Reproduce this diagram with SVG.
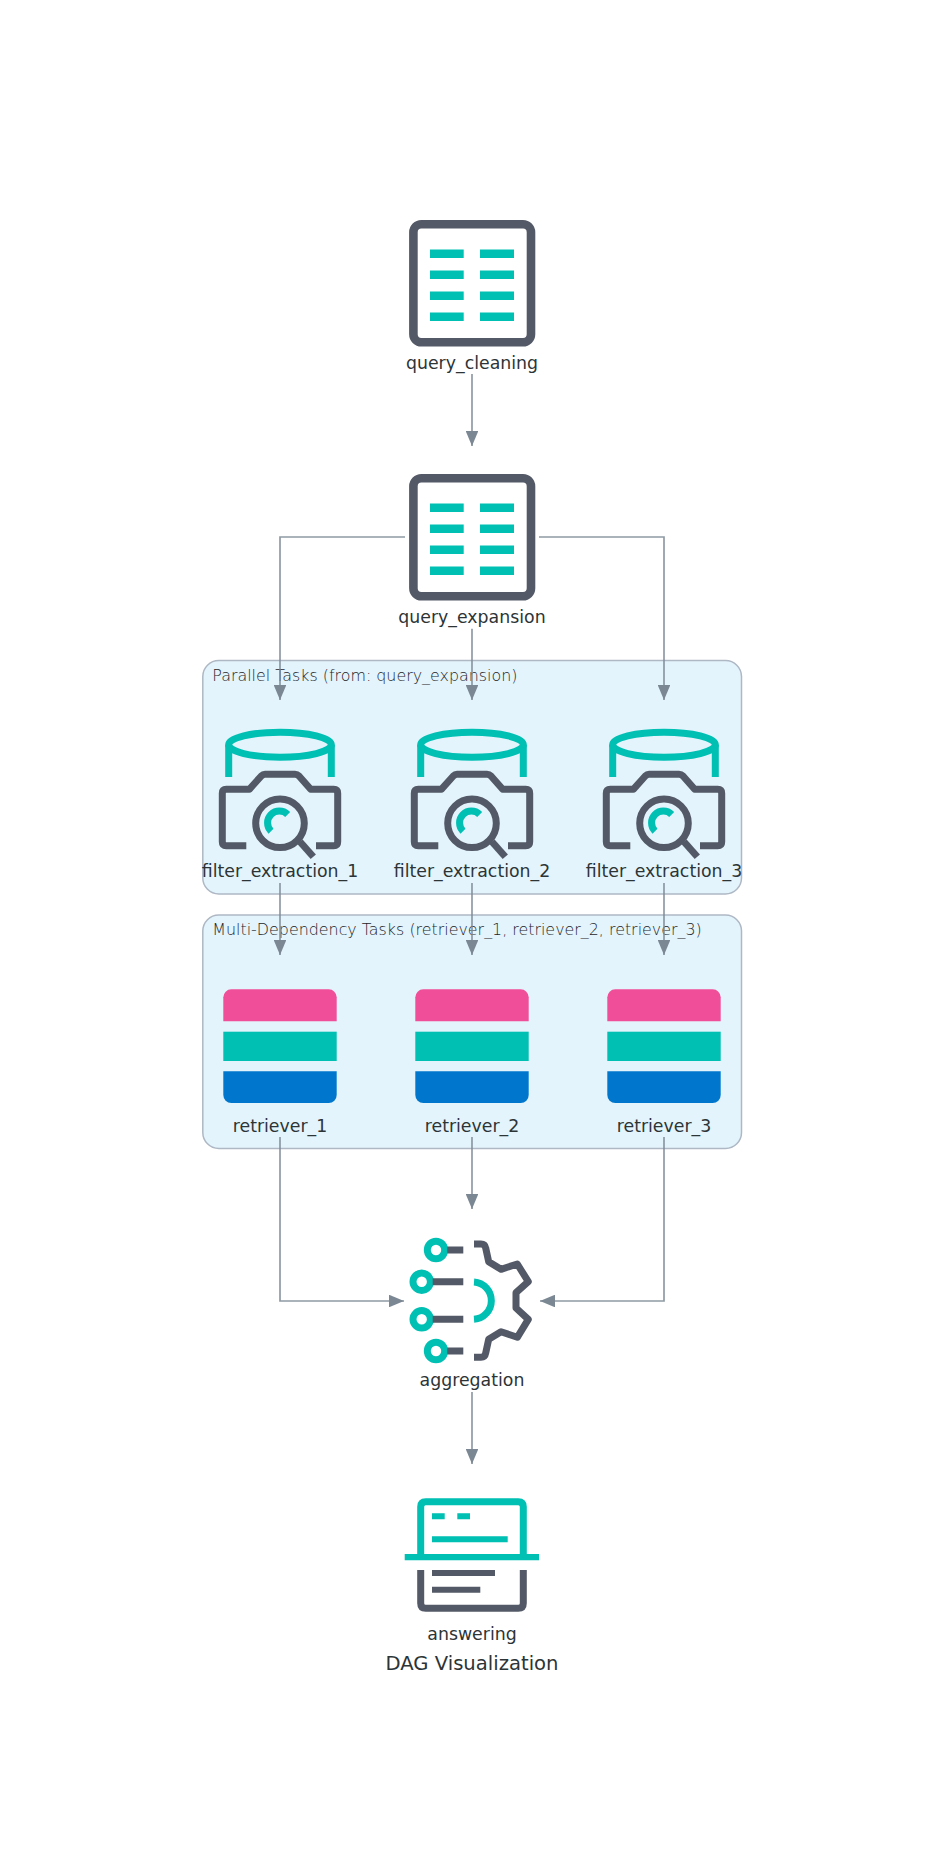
<svg xmlns="http://www.w3.org/2000/svg" width="944" height="1873" viewBox="0 0 944 1873">
<style>
text{font-family:"DejaVu Sans",sans-serif;fill:#2d3436}
.lbl{font-size:17.33px;text-anchor:middle}
.ttl{font-size:19.6px;text-anchor:middle}
.cl{font-size:15.88px;font-family:"DejaVu Sans",sans-serif;fill:#1f2528;font-weight:200}
.box{fill:#e3f4fd;stroke:#aeb8c4;stroke-width:1.5}
.edge{fill:none;stroke:#7b8894;stroke-width:1.7;stroke-opacity:.85}
.hd{fill:#7b8894}
.dk{fill:none;stroke:#535966;stroke-width:7}
.tl{fill:none;stroke:#00bfb3;stroke-width:7}
.tf{fill:#00bfb3}
.df{fill:#535966}
</style>
<defs>
<marker id="a" viewBox="0 0 15 12.6" refX="15" refY="6.3" markerWidth="15" markerHeight="12.6" markerUnits="userSpaceOnUse" orient="auto"><path class="hd" d="M0,0L15,6.3L0,12.6Z"/></marker>
<g id="table">
<rect x="413.4" y="4.2" width="117.6" height="118.1" rx="8" fill="#fff" stroke="#535966" stroke-width="8.6"/>
<path class="tf" d="M430,29.5h33.7v8.5h-33.7zM480,29.5h34v8.5h-34zM430,50.5h33.7v8.5h-33.7zM480,50.5h34v8.5h-34zM430,71.5h33.7v8.5h-33.7zM480,71.5h34v8.5h-34zM430,92.5h33.7v8.5h-33.7zM480,92.5h34v8.5h-34z"/>
</g>
<g id="camera">
<ellipse class="tl" cx="280" cy="744.7" rx="51.3" ry="12.5"/>
<path class="tl" d="M228.7,744.7V777M331.3,744.7V777"/>
<path class="dk" stroke-linejoin="round" d="M246.3,845.7H226.3Q222.3,845.7 222.3,841.7V793.3Q222.3,789.3 226.3,789.3H249.3L261.3,776Q263,774.3 265,774.3H295Q297.3,774.3 299,776L310.7,789.3H333.7Q337.7,789.3 337.7,793.3V841.7Q337.7,845.7 333.7,845.7H316"/>
<circle class="dk" cx="280" cy="823.3" r="24.3"/>
<path class="dk" d="M300,841.7L313.3,856.7"/>
<path class="tl" d="M271,831.2A11.7,11.7 0 0 1 287.7,814.5"/>
</g>
<g id="stack">
<path fill="#f04e98" d="M223.3,1021.3V997.3a8,8 0 0 1 8,-8H328.7a8,8 0 0 1 8,8V1021.3Z"/>
<rect class="tf" x="223.3" y="1031.7" width="113.4" height="29.3"/>
<path fill="#0077cc" d="M223.3,1071.3V1095a8,8 0 0 0 8,8H328.7a8,8 0 0 0 8,-8V1071.3Z"/>
</g>
</defs>
<g id="clusters">
<g id="cluster_parallel"><rect class="box" x="202.8" y="660.5" width="538.7" height="233.5" rx="16"/><text class="cl" x="212.3" y="681">Parallel Tasks (from: query_expansion)</text></g>
<g id="cluster_multi"><rect class="box" x="202.8" y="915" width="538.7" height="233.5" rx="16"/><text class="cl" x="212.3" y="935">Multi-Dependency Tasks (retriever_1, retriever_2, retriever_3)</text></g>
</g>
<g id="connectors">
<path class="edge" marker-end="url(#a)" d="M472,374V446"/>
<path class="edge" marker-end="url(#a)" d="M405,537H280V700"/>
<path class="edge" marker-end="url(#a)" d="M472,628.7V700"/>
<path class="edge" marker-end="url(#a)" d="M539,537H664V700"/>
<path class="edge" marker-end="url(#a)" d="M280,883V955"/>
<path class="edge" marker-end="url(#a)" d="M472,883V955"/>
<path class="edge" marker-end="url(#a)" d="M664,883V955"/>
<path class="edge" marker-end="url(#a)" d="M280,1137V1301H404"/>
<path class="edge" marker-end="url(#a)" d="M472,1137V1209"/>
<path class="edge" marker-end="url(#a)" d="M664,1137V1301H540"/>
<path class="edge" marker-end="url(#a)" d="M472,1392V1464"/>
</g>
<g id="query_cleaning"><use href="#table" y="220"/><text class="lbl" x="472" y="369">query_cleaning</text></g>
<g id="query_expansion"><use href="#table" y="474"/><text class="lbl" x="472" y="623">query_expansion</text></g>
<g id="filter_extraction_1"><use href="#camera"/><text class="lbl" x="280" y="877">filter_extraction_1</text></g>
<g id="filter_extraction_2"><use href="#camera" x="192"/><text class="lbl" x="472" y="877">filter_extraction_2</text></g>
<g id="filter_extraction_3"><use href="#camera" x="384"/><text class="lbl" x="664" y="877">filter_extraction_3</text></g>
<g id="retriever_1"><use href="#stack"/><text class="lbl" x="280" y="1132">retriever_1</text></g>
<g id="retriever_2"><use href="#stack" x="192"/><text class="lbl" x="472" y="1132">retriever_2</text></g>
<g id="retriever_3"><use href="#stack" x="384"/><text class="lbl" x="664" y="1132">retriever_3</text></g>
<g id="aggregation">
<circle class="tl" cx="436" cy="1250" r="8.7"/><circle class="tl" cx="421.7" cy="1281.7" r="8.7"/><circle class="tl" cx="421.7" cy="1319.3" r="8.7"/><circle class="tl" cx="436" cy="1351" r="8.7"/>
<path class="dk" d="M447.3,1250H463.3M432.7,1281.7H463.3M432.7,1319.3H463.3M447.3,1351H463.3"/>
<path class="tl" d="M474,1282A18.7,18.7 0 0 1 474,1319.3"/>
<path class="dk" stroke-linejoin="round" d="M474,1244H481Q485,1244 485.7,1248L488.7,1261.7L501,1269.3L517.3,1264L528.3,1281.7L516,1292.7V1308L528.3,1319.3L517.3,1337.3L501,1331.7L488.7,1339.3L485.7,1353Q485,1357.3 481,1357.3H474"/>
<text class="lbl" x="472" y="1386">aggregation</text>
</g>
<g id="answering">
<path class="tl" d="M420.7,1557V1506.7Q420.7,1501.7 425.7,1501.7H518.3Q523.3,1501.7 523.3,1506.7V1557"/>
<path class="tf" d="M404.7,1554H539V1560.3H404.7ZM432,1513.3H444.7V1519.3H432ZM457.3,1513.3H470V1519.3H457.3ZM432,1536.3H507.7V1542.3H432Z"/>
<path class="dk" d="M420.7,1570V1603.3Q420.7,1608.3 425.7,1608.3H518.3Q523.3,1608.3 523.3,1603.3V1570"/>
<path class="df" d="M432,1570H495V1576H432ZM432,1586.7H480.3V1592.7H432Z"/>
<text class="lbl" x="472" y="1640">answering</text>
</g>
<text id="title" class="ttl" x="472" y="1670">DAG Visualization</text>
</svg>
